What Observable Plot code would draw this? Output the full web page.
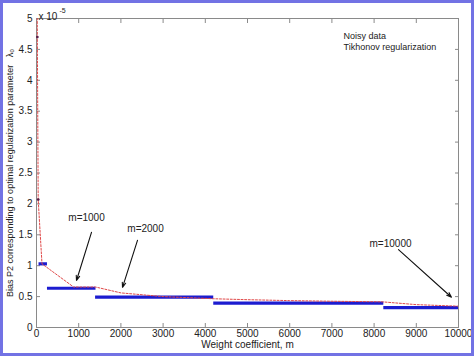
<!DOCTYPE html>
<html><head><meta charset="utf-8">
<script src="https://cdn.jsdelivr.net/npm/d3@7"></script>
<script src="https://cdn.jsdelivr.net/npm/@observablehq/plot@0.6"></script>
<style>
body{margin:0;background:#fff;}
#wrap{position:relative;width:474px;height:356px;overflow:hidden;background:#fff;}
#wrap svg{position:absolute;left:0;top:0;}
#border{position:absolute;left:0;top:0;width:474px;height:356px;box-sizing:border-box;border:3px solid #7272e4;pointer-events:none;}
</style></head><body><div id="wrap"></div>
<script>
// red dashed curve: bias vs weight coefficient
const lineM = [10, 20, 40, 130, 880, 1400, 2000, 3000, 4200, 5000, 6000, 7000, 8200, 9000, 10000];
const lineP = [6.0, 4.7, 2.07, 1.03, 0.655, 0.655, 0.56, 0.50, 0.465, 0.45, 0.435, 0.425, 0.415, 0.37, 0.345];
// marked points on the curve
const dotM = [20, 40];
const dotP = [4.7, 2.07];
// blue step segments
const segStart = [60, 260, 1400, 4200, 8230];
const segEnd = [260, 1410, 4200, 8230, 10000];
const segLevel = [1.03, 0.635, 0.49, 0.395, 0.32];
// annotations
const labelText = ["m=1000", "m=2000", "m=10000"];
const labelM = [1185, 2583, 8389];
const labelP = [1.78, 1.59, 1.36];
const arrowFromM = [1303, 2393, 8578];
const arrowFromP = [1.54, 1.41, 1.26];
const arrowToM = [948, 2038, 9834];
const arrowToP = [0.76, 0.65, 0.49];
const noteText = ["Noisy data", "Tikhonov regularization"];
const noteM = [7275, 7275];
const noteP = [4.72, 4.53];
// ticks
const xTicks = [0, 1000, 2000, 3000, 4000, 5000, 6000, 7000, 8000, 9000, 10000];
const yTicks = [0, 0.5, 1, 1.5, 2, 2.5, 3, 3.5, 4, 4.5, 5];
const xLabel = "Weight coefficient, m";
const yLabel = "Bias P2 corresponding to optimal regularization parameter   λ₀";

const curve = lineM.map((m, i) => ({m, p: lineP[i]}));
const dots = dotM.map((m, i) => ({m, p: dotP[i]}));
const segs = segStart.map((s, i) => ({s, e: segEnd[i], p: segLevel[i]}));
const labels = labelText.map((t, i) => ({t, m: labelM[i], p: labelP[i]}));
const arrows = arrowFromM.map((m, i) => ({m1: m, p1: arrowFromP[i], m2: arrowToM[i], p2: arrowToP[i]}));
const notes = noteText.map((t, i) => ({t, m: noteM[i], p: noteP[i]}));

const axisColor = "#8a8a8a";
const chart = Plot.plot({
  width: 474, height: 356,
  marginLeft: 36, marginRight: 16, marginTop: 18, marginBottom: 29,
  x: {domain: [0, 10000]},
  y: {domain: [0, 5]},
  style: {fontFamily: "'Liberation Sans', Arial, sans-serif", fontSize: "10px", color: "#222", background: "transparent"},
  marks: [
    Plot.frame({stroke: axisColor}),
    Plot.axisX(xTicks, {anchor: "bottom", tickSize: -4, tickPadding: 6, tickFormat: d => String(d), stroke: axisColor, label: null}),
    Plot.axisX(xTicks, {anchor: "top", tickSize: -4, tickFormat: () => "", stroke: axisColor, label: null}),
    Plot.axisY(yTicks, {anchor: "left", tickSize: -4, tickPadding: 8, tickFormat: d => String(d), stroke: axisColor, label: null}),
    Plot.axisY(yTicks, {anchor: "right", tickSize: -4, tickFormat: () => "", stroke: axisColor, label: null}),
    Plot.ruleY(segs, {x1: "s", x2: "e", y: "p", stroke: "#1c1cd0", strokeWidth: 3.2}),
    Plot.line(curve, {x: "m", y: "p", stroke: "#e04848", strokeWidth: 1, strokeDasharray: "2,1.6", clip: true}),
    Plot.dot(dots, {x: "m", y: "p", r: 1.4, fill: "#5a1f48", stroke: null}),
    Plot.arrow(arrows, {x1: "m1", y1: "p1", x2: "m2", y2: "p2", stroke: "#111", strokeWidth: 1.1, headLength: 7, headAngle: 40}),
    Plot.text(labels, {x: "m", y: "p", text: "t", fontSize: 10, fill: "#222"}),
    Plot.text(notes, {x: "m", y: "p", text: "t", textAnchor: "start", fontSize: 9, fill: "#222"}),
    Plot.text([xLabel], {frameAnchor: "bottom", dy: 20, text: d => d, fontSize: 10, fill: "#222"}),
    Plot.text([yLabel], {frameAnchor: "left", dx: -26, rotate: -90, textAnchor: "middle", text: d => d, fontSize: 9, fill: "#222"}),
    Plot.text(["x 10"], {frameAnchor: "top-left", dx: 2, dy: -6, text: d => d, textAnchor: "start", fontSize: 10, fill: "#222"}),
    Plot.text(["-5"], {frameAnchor: "top-left", dx: 23, dy: -10, text: d => d, textAnchor: "start", fontSize: 7, fill: "#222"})
  ]
});
const wrap = document.getElementById("wrap");
wrap.appendChild(chart);
const b = document.createElement("div"); b.id = "border"; wrap.appendChild(b);
</script>
</body></html>
